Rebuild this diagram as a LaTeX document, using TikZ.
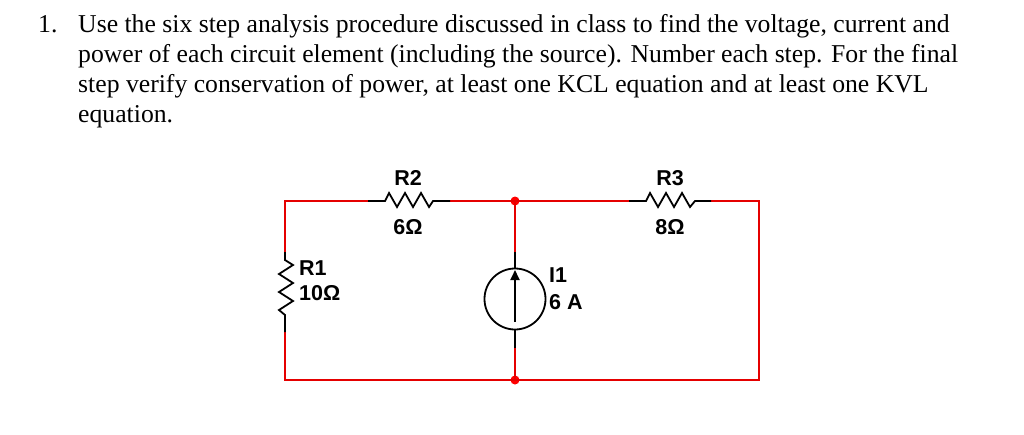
\documentclass[tikz,border=0pt]{standalone}
\usepackage{fontspec}
\setmainfont{Liberation Serif}
\setsansfont{Liberation Sans}
\usetikzlibrary{arrows.meta}
\begin{document}
\begin{tikzpicture}[x=1pt,y=-1pt,
  wire/.style={red!90!black,line width=1.8pt},
  lead/.style={black,line width=1.8pt},
  lbl/.style={font=\fontsize{21.5}{21.5}\selectfont\sffamily\bfseries,inner sep=0pt},
  txt/.style={font=\fontsize{25.7}{25.7}\selectfont,anchor=base west,inner sep=0pt},
  dot/.style={circle,fill=red,inner sep=0pt,minimum size=9pt}]
\useasboundingbox (0,0) rectangle (1024,434);
\node[txt] (n1) at (38,32) {1.};
\node[txt] (l1) at (78,32) {Use the six step analysis procedure discussed in class to find the voltage, current and};
\node[txt] (l2) at (78,62) {power of each circuit element (including the source). Number each step. For the final};
\node[txt] (l3) at (78,92) {step verify conservation of power, at least one KCL equation and at least one KVL};
\node[txt] (l4) at (78,122) {equation.};
% corners
\coordinate (tl) at (285,201); \coordinate (tr) at (759,201);
\coordinate (bl) at (285,380); \coordinate (br) at (759,380);
\node[dot] (jt) at (515,201) {}; \node[dot] (jb) at (515,380) {};
% wires
\draw[wire] (285,252) -- (tl) -- (368,201);
\draw[wire] (450,201) -- (jt.center) -- (629,201);
\draw[wire] (711,201) -- (tr) -- (br) -- (jb.center) -- (bl) -- (285,332);
\draw[wire] (jt.center) -- (515,252);
\draw[wire] (515,348) -- (jb.center);
% R2
\draw[lead] (368,201) -- (385,201) -- (389,193) -- (397,207) -- (405,193) -- (413,207) -- (421,193) -- (429,207) -- (433,201) -- (450,201);
% R3
\draw[lead] (629,201) -- (646,201) -- (650,193) -- (658,207) -- (666,193) -- (674,207) -- (682,193) -- (690,207) -- (695,201) -- (711,201);
% R1
\draw[lead] (285,252) -- (285,260) -- (293,265) -- (279,274) -- (293,283) -- (279,292) -- (293,301) -- (279,310) -- (285,315) -- (285,332);
% source
\node[circle,draw,line width=1.8pt,minimum size=61pt,inner sep=0pt] (src) at (515,299) {};
\draw[lead] (515,252) -- (src.north);
\draw[lead] (src.south) -- (515,348);
\draw[lead,-{Triangle[length=10pt,width=9pt]}] (515,322) -- (515,270);
% labels
\node[lbl] (r2l) at (408,178) {R2};
\node[lbl] (r2v) at (408,227) {6Ω};
\node[lbl] (r3l) at (670,178) {R3};
\node[lbl] (r3v) at (670,227) {8Ω};
\node[lbl,anchor=west] (r1l) at (299,268) {R1};
\node[lbl,anchor=west] (r1v) at (299,293) {10Ω};
\node[lbl,anchor=west] (i1l) at (549,275) {I1};
\node[lbl,anchor=west] (i1v) at (549,302) {6 A};
\end{tikzpicture}
\end{document}
